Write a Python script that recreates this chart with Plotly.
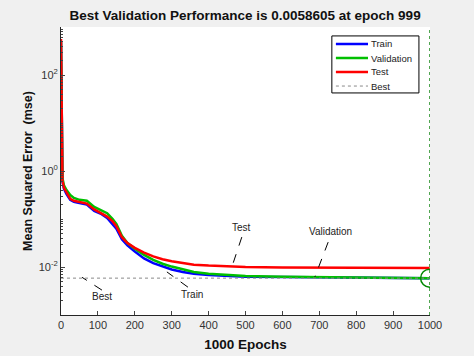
import plotly.graph_objects as go
import math

epochs = [0, 2, 4, 8, 15, 25, 35, 50, 70, 90, 110, 125, 140, 150, 165, 180, 200, 225, 250, 275, 300, 330, 360, 400, 450, 500, 600, 700, 800, 900, 999]
train = [500, 2.0, 0.60, 0.427, 0.331, 0.251, 0.229, 0.214, 0.200, 0.148, 0.126, 0.105, 0.0794, 0.0631, 0.038, 0.0282, 0.0209, 0.0151, 0.0120, 0.0102, 0.0089, 0.0079, 0.0072, 0.0068, 0.0065, 0.0063, 0.0062, 0.0061, 0.0060, 0.00596, 0.00586]
validation = [500, 2.0, 0.71, 0.50, 0.40, 0.316, 0.275, 0.251, 0.240, 0.178, 0.148, 0.132, 0.100, 0.0794, 0.0447, 0.0316, 0.0240, 0.0178, 0.0141, 0.0117, 0.0102, 0.0089, 0.0079, 0.0072, 0.0068, 0.0065, 0.0063, 0.0062, 0.0060, 0.00596, 0.0058605]
test = [562, 2.0, 0.63, 0.447, 0.355, 0.263, 0.240, 0.224, 0.209, 0.158, 0.132, 0.112, 0.0891, 0.0708, 0.0417, 0.0316, 0.0251, 0.0200, 0.0166, 0.0145, 0.0132, 0.0120, 0.0112, 0.0107, 0.0102, 0.0100, 0.0098, 0.0097, 0.0096, 0.0095, 0.0095]

best_epoch = 999
best_perf = 0.0058605

x_ticks = [0, 100, 200, 300, 400, 500, 600, 700, 800, 900, 1000]
y_tickvals = [1e-2, 1e0, 1e2]
y_ticktext = ["10<sup>-2</sup>", "10<sup>0</sup>", "10<sup>2</sup>"]
decades = [-3, -2, -1, 0, 1, 2]
y_minor = [m * 10.0 ** e for e in decades for m in range(1, 10)] + [1e3]

# annotation labels: (text, text_x, text_y, line_x0, line_y0, line_x1, line_y1)
labels = [
    ("Test", 490, 0.066, 490, 0.042, 463, 0.0100),
    ("Validation", 729, 0.055, 724, 0.033, 688, 0.0062),
    ("Train", 355, 0.0027, 344, 0.0038, 287, 0.0079),
    ("Best", 111, 0.0024, 111, 0.0033, 57, 0.0061),
]

legend_names = ["Train", "Validation", "Test", "Best"]
legend_colors = ["#0000ff", "#00c000", "#ff0000", "#8a8a8a"]
legend_widths = [2.5, 2.5, 2.5, 1]
legend_dash = ["solid", "solid", "solid", "dot"]

font = "Liberation Sans, Arial, sans-serif"

fig = go.Figure()
fig.add_trace(go.Scatter(x=epochs, y=train, mode="lines", name="Train",
                         line=dict(color="#0000ff", width=2.5)))
fig.add_trace(go.Scatter(x=epochs, y=validation, mode="lines", name="Validation",
                         line=dict(color="#00c000", width=2.5)))
fig.add_trace(go.Scatter(x=epochs, y=test, mode="lines", name="Test",
                         line=dict(color="#ff0000", width=2.5)))
fig.add_trace(go.Scatter(x=[0, 1000], y=[best_perf, best_perf], mode="lines", name="Best",
                         line=dict(color="#8a8a8a", width=1, dash="dot")))
fig.add_trace(go.Scatter(x=[best_epoch, best_epoch], y=[1e-3, 1e3], mode="lines",
                         line=dict(color="#3a9a3a", width=1, dash="dot")))
fig.add_trace(go.Scatter(x=[best_epoch], y=[best_perf], mode="markers",
                         marker=dict(symbol="circle-open", size=18, color="#008800",
                                     line=dict(width=1.5, color="#008800"))))

for text, tx, ty, x0, y0, x1, y1 in labels:
    fig.add_trace(go.Scatter(x=[x0, x1], y=[y0, y1], mode="lines",
                             line=dict(color="black", width=1, dash="dash")))
    fig.add_annotation(x=tx, y=math.log10(ty), text=text, showarrow=False,
                       font=dict(family=font, size=10, color="#222222"))

# custom compact legend (MATLAB style)
fig.add_shape(type="rect", xref="paper", yref="paper", x0=0.734, x1=0.970, y0=0.771, y1=0.969,
              fillcolor="white", line=dict(color="black", width=1), layer="above")
leg_y = [0.941, 0.892, 0.844, 0.795]
for name, col, w, d, yy in zip(legend_names, legend_colors, legend_widths, legend_dash, leg_y):
    fig.add_shape(type="line", xref="paper", yref="paper", x0=0.745, x1=0.832, y0=yy, y1=yy,
                  line=dict(color=col, width=w, dash=d), layer="above")
    fig.add_annotation(xref="paper", yref="paper", x=0.836, y=yy, text=name, showarrow=False,
                       xanchor="left", yanchor="middle",
                       font=dict(family=font, size=9.5, color="#222222"))

fig.update_layout(
    width=474, height=356,
    margin=dict(l=61, r=44, t=27, b=41),
    paper_bgcolor="#f0f0f0",
    plot_bgcolor="white",
    font=dict(family=font, size=11, color="#333333"),
    title=dict(text="<b>Best Validation Performance is 0.0058605 at epoch 999</b>",
               x=0.517, xanchor="center", y=0.958, yanchor="middle",
               font=dict(family=font, size=13.5, color="#111111")),
    showlegend=False,
)
fig.update_xaxes(range=[0, 1000], tickvals=x_ticks, ticks="inside", ticklen=4,
                 showgrid=False, zeroline=False, showline=True, linecolor="#262626",
                 linewidth=1, mirror=False, automargin=False,
                 title=dict(text="<b>1000 Epochs</b>", standoff=9,
                            font=dict(family=font, size=13.5, color="#111111")))
fig.update_yaxes(type="log", range=[-3, 3], tickvals=y_tickvals, ticktext=y_ticktext,
                 ticks="inside", ticklen=4, showgrid=False, zeroline=False,
                 showline=True, linecolor="#262626", linewidth=1, mirror=False,
                 automargin=False,
                 minor=dict(ticks="inside", ticklen=2, tickvals=y_minor, showgrid=False),
                 title=dict(text="<b>Mean Squared Error  (mse)</b>", standoff=3,
                            font=dict(family=font, size=12.5, color="#111111")))

fig.write_html("out.html", config={"displayModeBar": False},
               post_script="document.body.style.margin='0px';document.body.style.overflow='hidden';")
